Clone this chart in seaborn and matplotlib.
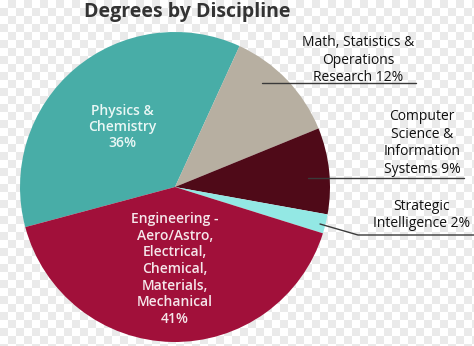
import numpy as np
import matplotlib
matplotlib.use("Agg")
import matplotlib.pyplot as plt
import seaborn as sns

# --- data ---
disciplines = ["Physics & Chemistry", "Math, Statistics & Operations Research",
               "Computer Science & Information Systems", "Strategic Intelligence",
               "Engineering"]
shares = [36, 12, 9, 2, 41]
slice_colors = ["#48ADA7", "#B7AFA1", "#4F0A18", "#93E8E4", "#A1103A"]

sns.set_theme(style="white")
plt.rcParams['font.family'] = ['Open Sans', 'DejaVu Sans']

W, H = 474, 346
CX, CY, R = 175, 187, 155


def px(x, y):
    # pixel position (from top-left) -> data coords of the pie axes
    return (x - CX) / R, (CY - y) / R


fig = plt.figure(figsize=(W / 100, H / 100), dpi=100)

# checkerboard background like the reference preview
yy, xx = np.mgrid[0:H, 0:W]
checker = ((xx // 8 + yy // 8) % 2)
bg_ax = fig.add_axes([0, 0, 1, 1], zorder=0)
bg_ax.imshow(checker, cmap="gray_r", vmin=0, vmax=12, interpolation="nearest",
             aspect="auto")
bg_ax.axis("off")

ax = fig.add_axes([0, 0, 1, 1], zorder=1)
ax.set_facecolor("none")
ax.pie(shares, colors=slice_colors, startangle=195, counterclock=False,
       radius=1, center=(0, 0), wedgeprops=dict(linewidth=0))
ax.set_xlim(px(0, 0)[0], px(W, 0)[0])
ax.set_ylim(px(0, H)[1], px(0, 0)[1])
ax.set_aspect("equal")
ax.axis("off")

ax.text(*px(187, 12), "Degrees by Discipline", ha="center", va="center",
        fontsize=14, fontweight="bold", color="#333333")

inner = dict(ha="center", va="center", fontsize=10, fontweight="semibold",
             color="#EAF7F5", linespacing=1.18)
ax.text(*px(122, 127), f"Physics &\nChemistry\n{shares[0]}%", **inner)
inner["color"] = "#F5E6EA"
inner["linespacing"] = 1.24
ax.text(*px(175, 269),
        f"Engineering -\nAero/Astro,\nElectrical,\nChemical,\nMaterials,\nMechanical\n{shares[4]}%",
        **inner)

outer = dict(ha="center", va="center", fontsize=10, fontweight="medium",
             color="#111111", linespacing=1.25)
ax.text(*px(358, 60), f"Math, Statistics &\nOperations\nResearch {shares[1]}%", **outer)
ax.text(*px(422, 143), f"Computer\nScience &\nInformation\nSystems {shares[2]}%", **outer)
ax.text(*px(422, 215), f"Strategic\nIntelligence {shares[3]}%", **outer)

line = dict(color="#3A3A3A", linewidth=1.0)
for pts in ([(262, 83), (416, 83)],
            [(308, 178), (464, 178)],
            [(320, 224), (358, 235), (474, 235)]):
    xs, ys = zip(*[px(x, y) for x, y in pts])
    ax.plot(xs, ys, **line)

plt.savefig("out.png", dpi=100)
